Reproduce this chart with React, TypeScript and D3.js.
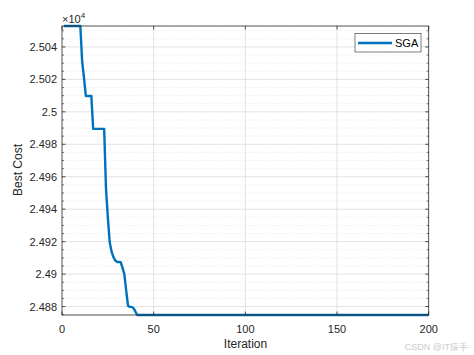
import React from "react";
import * as d3 from "d3";

const iterations: number[] = d3.range(1, 201);
// Best cost per iteration (values in units, plotted as ×10^4)
const headCost: number[] = [
  25052.9, 25052.9, 25052.9, 25052.9, 25052.9, 25052.9, 25052.9, 25052.9, 25052.9, 25052.9,
  25031.0, 25021.0, 25009.8, 25009.8, 25009.8, 25009.8, 24989.5, 24989.5, 24989.5, 24989.5,
  24989.5, 24989.5, 24989.5, 24952.5, 24935.0, 24919.8, 24914.0, 24910.6, 24908.5, 24907.5,
  24907.5, 24907.3, 24904.0, 24900.0, 24890.0, 24880.5, 24879.8, 24879.8, 24879.0, 24877.0,
];
const finalCost = 24874.8;
const bestCost: number[] = iterations.map((it) => (it <= headCost.length ? headCost[it - 1] : finalCost));

const xTicks: number[] = [0, 50, 100, 150, 200];
const yTicks: number[] = [2.488, 2.49, 2.492, 2.494, 2.496, 2.498, 2.5, 2.502, 2.504];
const yTickLabels: string[] = ["2.488", "2.49", "2.492", "2.494", "2.496", "2.498", "2.5", "2.502", "2.504"];
const seriesName = "SGA";

const W = 474;
const H = 355;
const L = 62, R = 428.7, T = 26, B = 315;
const FONT = "'Liberation Sans', Arial, Helvetica, sans-serif";
const AX = "#262626";

export default function App() {
  const x = d3.scaleLinear().domain([0, 200]).range([L, R]);
  const yMin = d3.min(bestCost)! / 1e4;
  const yMax = d3.max(bestCost)! / 1e4;
  const y = d3.scaleLinear().domain([yMin, yMax]).range([B, T]);

  const minor: number[] = [];
  for (let v = 2.4865; v <= 2.506; v += 0.0005) {
    const r = Math.round(v * 10000) / 10000;
    if (r >= yMin && r <= yMax && Math.round(r * 10000) % 20 !== 0) minor.push(r);
  }

  const line = d3
    .line<number>()
    .x((_, i) => x(iterations[i]))
    .y((d) => y(d / 1e4));

  return (
    <svg
      width={W}
      height={H}
      style={{ position: "absolute", left: 0, top: 0, background: "#fff" }}
      fontFamily={FONT}
    >
      <rect x={0} y={0} width={W} height={H} fill="#fff" />
      {/* minor grid */}
      {minor.map((v) => (
        <line key={"mg" + v} x1={L} x2={R} y1={y(v)} y2={y(v)} stroke="#e4e4e4" strokeWidth={0.6} strokeDasharray="1.5,1.5" />
      ))}
      {/* major grid */}
      {yTicks.map((v) => (
        <line key={"gy" + v} x1={L} x2={R} y1={y(v)} y2={y(v)} stroke="#dcdcdc" strokeWidth={0.8} />
      ))}
      {xTicks.slice(1, -1).map((v) => (
        <line key={"gx" + v} x1={x(v)} x2={x(v)} y1={T} y2={B} stroke="#dcdcdc" strokeWidth={0.8} />
      ))}
      {/* data */}
      <path d={line(bestCost) || ""} fill="none" stroke="#0072BD" strokeWidth={2.4} strokeLinejoin="round" />
      {/* box */}
      <rect x={L} y={T} width={R - L} height={B - T} fill="none" stroke={AX} strokeWidth={0.8} />
      {/* ticks */}
      {yTicks.map((v) => (
        <g key={"ty" + v}>
          <line x1={L} x2={L + 3.5} y1={y(v)} y2={y(v)} stroke={AX} strokeWidth={0.8} />
          <line x1={R} x2={R - 3.5} y1={y(v)} y2={y(v)} stroke={AX} strokeWidth={0.8} />
        </g>
      ))}
      {minor.map((v) => (
        <g key={"tm" + v}>
          <line x1={L} x2={L + 2} y1={y(v)} y2={y(v)} stroke={AX} strokeWidth={0.6} />
          <line x1={R} x2={R - 2} y1={y(v)} y2={y(v)} stroke={AX} strokeWidth={0.6} />
        </g>
      ))}
      {xTicks.map((v) => (
        <g key={"tx" + v}>
          <line x1={x(v)} x2={x(v)} y1={B} y2={B - 3.5} stroke={AX} strokeWidth={0.8} />
          <line x1={x(v)} x2={x(v)} y1={T} y2={T + 3.5} stroke={AX} strokeWidth={0.8} />
        </g>
      ))}
      {/* tick labels */}
      {yTicks.map((v, i) => (
        <text key={"ly" + v} x={L - 5} y={y(v) + 4} fontSize={11} textAnchor="end" fill={AX}>
          {yTickLabels[i]}
        </text>
      ))}
      {xTicks.map((v) => (
        <text key={"lx" + v} x={x(v)} y={333} fontSize={11} textAnchor="middle" fill={AX}>
          {v}
        </text>
      ))}
      {/* exponent */}
      <text x={62} y={23} fontSize={11} fill={AX}>
        ×10
        <tspan fontSize={8} dy={-5}>4</tspan>
      </text>
      {/* axis labels */}
      <text x={245.5} y={348} fontSize={12} textAnchor="middle" fill={AX}>
        Iteration
      </text>
      <text transform={`translate(21.5,170) rotate(-90)`} fontSize={12} textAnchor="middle" fill={AX}>
        Best Cost
      </text>
      {/* legend */}
      <rect x={355} y={33.5} width={66} height={18.5} fill="#fff" stroke={AX} strokeWidth={0.6} />
      <line x1={358} x2={392} y1={43} y2={43} stroke="#0072BD" strokeWidth={2.4} />
      <text x={395} y={47} fontSize={11} fill="#000">
        {seriesName}
      </text>
      {/* watermark */}
      <text x={468} y={350} fontSize={9} textAnchor="end" fill="#cccccc">
        CSDN @IT猿手
      </text>
    </svg>
  );
}
